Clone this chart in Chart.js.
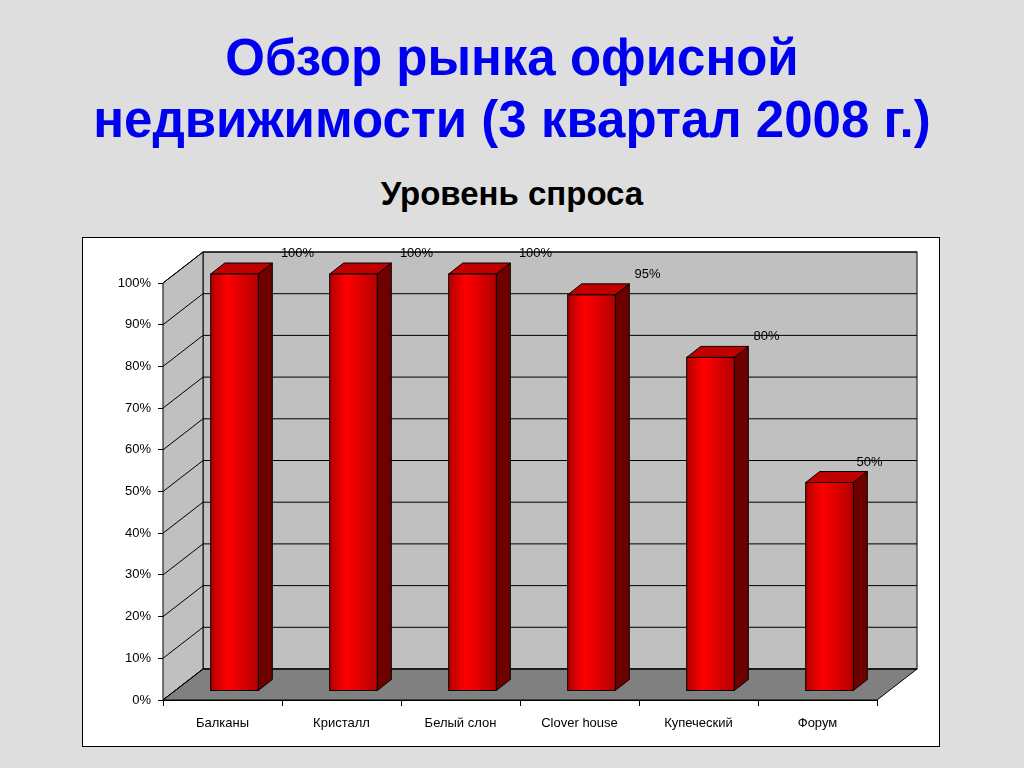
<!DOCTYPE html>
<html>
<head>
<meta charset="utf-8">
<script src="https://cdn.jsdelivr.net/npm/chart.js@4"></script>
<style>
  body { margin: 0; width: 1024px; height: 768px; background: #dedede; font-family: "Liberation Sans", Arial, sans-serif; position: relative; overflow: hidden; }
  h1 { position: absolute; top: 27px; left: 0; width: 1024px; margin: 0; text-align: center; color: #0000f0; font-size: 51px; line-height: 62px; font-weight: bold; }
  h2 { position: absolute; top: 175px; left: 0; width: 1024px; margin: 0; text-align: center; color: #000; font-size: 33px; font-weight: bold; }
  #box { position: absolute; left: 82px; top: 237px; width: 856px; height: 508px; background: #fff; border: 1px solid #000; }
</style>
</head>
<body>
<h1>Обзор рынка офисной<br>недвижимости (3 квартал 2008 г.)</h1>
<h2>Уровень спроса</h2>
<div id="box"><canvas id="chart" width="856" height="508"></canvas></div>
<script>
const categories = ["Балканы", "Кристалл", "Белый слон", "Clover house", "Купеческий", "Форум"];
const demand = [100, 100, 100, 95, 80, 50];
const yTicks = [0, 10, 20, 30, 40, 50, 60, 70, 80, 90, 100];

// 3D depth of the walls
const DX = 40, DY = -31;

const threeD = {
  id: "threeD",
  beforeDatasetsDraw(chart) {
    const { ctx, scales: { x, y } } = chart;
    const l = x.left, r = x.right, t = y.getPixelForValue(100), b = y.getPixelForValue(0);
    ctx.save();
    ctx.strokeStyle = "#000";
    ctx.lineWidth = 1;
    // back wall
    ctx.fillStyle = "#c0c0c0";
    ctx.fillRect(l + DX, t + DY, r - l, b - t);
    ctx.strokeRect(l + DX, t + DY, r - l, b - t);
    // left wall
    ctx.beginPath();
    ctx.moveTo(l, b); ctx.lineTo(l + DX, b + DY); ctx.lineTo(l + DX, t + DY); ctx.lineTo(l, t); ctx.closePath();
    ctx.fill(); ctx.stroke();
    // floor
    ctx.fillStyle = "#808080";
    ctx.beginPath();
    ctx.moveTo(l, b); ctx.lineTo(r, b); ctx.lineTo(r + DX, b + DY); ctx.lineTo(l + DX, b + DY); ctx.closePath();
    ctx.fill(); ctx.stroke();
    // grid lines
    yTicks.forEach(v => {
      const py = y.getPixelForValue(v);
      ctx.beginPath();
      ctx.moveTo(l, py); ctx.lineTo(l + DX, py + DY); ctx.lineTo(r + DX, py + DY);
      ctx.stroke();
    });
    ctx.restore();
  },
  afterDatasetsDraw(chart) {
    const { ctx, scales: { x, y } } = chart;
    const meta = chart.getDatasetMeta(0);
    const ox = 12, oy = -9, dx = 14, dy = -11;
    ctx.save();
    ctx.strokeStyle = "#000";
    ctx.lineWidth = 1;
    meta.data.forEach((bar, i) => {
      const w = bar.width;
      const x0 = bar.x - w / 2 + ox, x1 = x0 + w;
      const top = bar.y + oy, bot = bar.base + oy;
      // side
      ctx.fillStyle = "#6e0000";
      ctx.beginPath();
      ctx.moveTo(x1, bot); ctx.lineTo(x1 + dx, bot + dy); ctx.lineTo(x1 + dx, top + dy); ctx.lineTo(x1, top); ctx.closePath();
      ctx.fill(); ctx.stroke();
      // top
      ctx.fillStyle = "#c00000";
      ctx.beginPath();
      ctx.moveTo(x0, top); ctx.lineTo(x0 + dx, top + dy); ctx.lineTo(x1 + dx, top + dy); ctx.lineTo(x1, top); ctx.closePath();
      ctx.fill(); ctx.stroke();
      // front
      const g = ctx.createLinearGradient(x0, 0, x1, 0);
      g.addColorStop(0, "#b00000");
      g.addColorStop(0.35, "#ff0000");
      g.addColorStop(1, "#b40000");
      ctx.fillStyle = g;
      ctx.fillRect(x0, top, w, bot - top);
      ctx.strokeRect(x0, top, w, bot - top);
      // label
      ctx.fillStyle = "#000";
      ctx.font = "13px 'Liberation Sans', Arial";
      ctx.textAlign = "center";
      ctx.textBaseline = "bottom";
      const shift = demand[i] >= 100 ? 75 : (demand[i] >= 80 ? 68 : 52);
      ctx.fillText(demand[i] + "%", x.getPixelForValue(i) + shift, y.getPixelForValue(demand[i]) + DY + 8);
    });
    ctx.restore();
  }
};

new Chart(document.getElementById("chart"), {
  type: "bar",
  data: {
    labels: categories,
    datasets: [{ data: demand, backgroundColor: "rgba(0,0,0,0)", borderWidth: 0, barPercentage: 0.4, categoryPercentage: 1 }]
  },
  options: {
    responsive: false,
    animation: false,
    layout: { padding: { top: 45, right: 62, left: 0, bottom: 0 } },
    plugins: { legend: { display: false }, tooltip: { enabled: false } },
    scales: {
      x: {
        afterFit: s => { s.height = 46; },
        grid: { drawOnChartArea: false, color: "#000", tickLength: 6 },
        border: { color: "#000" },
        ticks: { color: "#000", font: { family: "Liberation Sans", size: 13 }, padding: 10, maxRotation: 0 }
      },
      y: {
        min: 0, max: 100,
        afterFit: s => { s.width = 80; },
        grid: { drawOnChartArea: false, color: "#000", tickLength: 5 },
        border: { color: "#000" },
        ticks: { stepSize: 10, color: "#000", font: { family: "Liberation Sans", size: 13 }, padding: 7, callback: v => v + "%" }
      }
    }
  },
  plugins: [threeD]
});
</script>
</body>
</html>
